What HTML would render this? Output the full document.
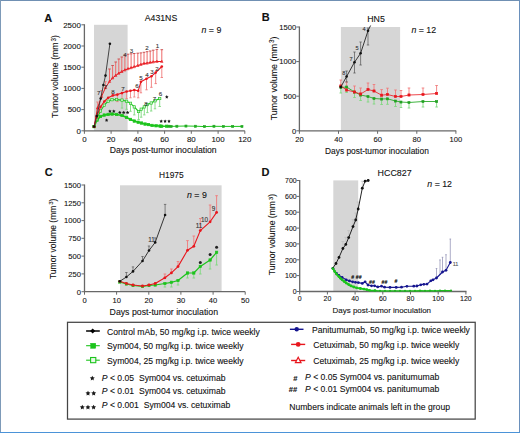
<!DOCTYPE html><html><head><meta charset="utf-8"><style>html,body{margin:0;padding:0;background:#fff;overflow:hidden;}svg{display:block;}text{font-family:"Liberation Sans", sans-serif;stroke-width:0.18px;stroke-opacity:0.6;}</style></head><body>
<svg width="520" height="433" viewBox="0 0 520 433">
<rect x="0" y="0" width="520" height="433" fill="#fff"/>
<rect x="94" y="24.8" width="33.6" height="106.0" fill="#d6d6d6"/>
<path d="M84.4,24.3V130.8H244.8" stroke="#686868" stroke-width="1.3" fill="none"/>
<path d="M81.4,130.8H84.4" stroke="#686868" stroke-width="1"/>
<text x="80.80" y="133.60" font-size="7.9" text-anchor="end" font-weight="normal" fill="#111" stroke="#111" >0</text>
<path d="M81.4,109.6H84.4" stroke="#686868" stroke-width="1"/>
<text x="80.80" y="112.40" font-size="7.9" text-anchor="end" font-weight="normal" fill="#111" stroke="#111" >500</text>
<path d="M81.4,88.4H84.4" stroke="#686868" stroke-width="1"/>
<text x="80.80" y="91.20" font-size="7.9" text-anchor="end" font-weight="normal" fill="#111" stroke="#111" >1000</text>
<path d="M81.4,67.2H84.4" stroke="#686868" stroke-width="1"/>
<text x="80.80" y="70.00" font-size="7.9" text-anchor="end" font-weight="normal" fill="#111" stroke="#111" >1500</text>
<path d="M81.4,46.0H84.4" stroke="#686868" stroke-width="1"/>
<text x="80.80" y="48.80" font-size="7.9" text-anchor="end" font-weight="normal" fill="#111" stroke="#111" >2000</text>
<path d="M81.4,24.8H84.4" stroke="#686868" stroke-width="1"/>
<text x="80.80" y="27.60" font-size="7.9" text-anchor="end" font-weight="normal" fill="#111" stroke="#111" >2500</text>
<path d="M84.4,130.8V133.8" stroke="#686868" stroke-width="1"/>
<text x="84.40" y="142.00" font-size="7.9" text-anchor="middle" font-weight="normal" fill="#111" stroke="#111" >0</text>
<path d="M111.1,130.8V133.8" stroke="#686868" stroke-width="1"/>
<text x="111.13" y="142.00" font-size="7.9" text-anchor="middle" font-weight="normal" fill="#111" stroke="#111" >20</text>
<path d="M137.9,130.8V133.8" stroke="#686868" stroke-width="1"/>
<text x="137.87" y="142.00" font-size="7.9" text-anchor="middle" font-weight="normal" fill="#111" stroke="#111" >40</text>
<path d="M164.6,130.8V133.8" stroke="#686868" stroke-width="1"/>
<text x="164.60" y="142.00" font-size="7.9" text-anchor="middle" font-weight="normal" fill="#111" stroke="#111" >60</text>
<path d="M191.3,130.8V133.8" stroke="#686868" stroke-width="1"/>
<text x="191.33" y="142.00" font-size="7.9" text-anchor="middle" font-weight="normal" fill="#111" stroke="#111" >80</text>
<path d="M218.1,130.8V133.8" stroke="#686868" stroke-width="1"/>
<text x="218.07" y="142.00" font-size="7.9" text-anchor="middle" font-weight="normal" fill="#111" stroke="#111" >100</text>
<path d="M244.8,130.8V133.8" stroke="#686868" stroke-width="1"/>
<text x="244.80" y="142.00" font-size="7.9" text-anchor="middle" font-weight="normal" fill="#111" stroke="#111" >120</text>
<text x="44.30" y="21.50" font-size="11" text-anchor="start" font-weight="bold" fill="#111" stroke="#111" >A</text>
<text x="161.00" y="21.30" font-size="8.7" text-anchor="middle" font-weight="normal" fill="#111" stroke="#111" >A431NS</text>
<text x="201.50" y="33.00" font-size="8.8" fill="#111" stroke="#111"><tspan font-style="italic">n</tspan> = 9</text>
<text transform="translate(58.30,76.50) rotate(-90)" font-size="8.75" text-anchor="middle" fill="#111" stroke="#111">Tumor volume (mm<tspan font-size="6.30" dx="0.8" dy="-2.6">3</tspan><tspan dy="2.6">)</tspan></text>
<text x="163.20" y="153.30" font-size="8.65" text-anchor="middle" font-weight="normal" fill="#111" stroke="#111" >Days post-tumor inoculation</text>
<path d="M109.5,81.5V69.0" stroke="#ee6a6a" stroke-width="1.0" stroke-opacity="1" fill="none"/>
<path d="M108.2,69.0H110.8" stroke="#c55" stroke-width="1.0" stroke-opacity="1" fill="none"/>
<path d="M112.6,78.0V65.5" stroke="#ee6a6a" stroke-width="1.0" stroke-opacity="1" fill="none"/>
<path d="M111.3,65.5H113.9" stroke="#c55" stroke-width="1.0" stroke-opacity="1" fill="none"/>
<path d="M115.7,75.5V62.0" stroke="#ee6a6a" stroke-width="1.0" stroke-opacity="1" fill="none"/>
<path d="M114.4,62.0H117.0" stroke="#c55" stroke-width="1.0" stroke-opacity="1" fill="none"/>
<path d="M118.8,73.3V59.0" stroke="#ee6a6a" stroke-width="1.0" stroke-opacity="1" fill="none"/>
<path d="M117.5,59.0H120.1" stroke="#c55" stroke-width="1.0" stroke-opacity="1" fill="none"/>
<path d="M121.8,71.6V57.0" stroke="#ee6a6a" stroke-width="1.0" stroke-opacity="1" fill="none"/>
<path d="M120.5,57.0H123.1" stroke="#c55" stroke-width="1.0" stroke-opacity="1" fill="none"/>
<path d="M124.9,70.0V55.0" stroke="#ee6a6a" stroke-width="1.0" stroke-opacity="1" fill="none"/>
<path d="M123.6,55.0H126.2" stroke="#c55" stroke-width="1.0" stroke-opacity="1" fill="none"/>
<path d="M128.0,68.8V54.2" stroke="#ee6a6a" stroke-width="1.0" stroke-opacity="1" fill="none"/>
<path d="M126.7,54.2H129.3" stroke="#c55" stroke-width="1.0" stroke-opacity="1" fill="none"/>
<path d="M131.1,67.8V53.8" stroke="#ee6a6a" stroke-width="1.0" stroke-opacity="1" fill="none"/>
<path d="M129.8,53.8H132.4" stroke="#c55" stroke-width="1.0" stroke-opacity="1" fill="none"/>
<path d="M134.2,66.8V53.5" stroke="#ee6a6a" stroke-width="1.0" stroke-opacity="1" fill="none"/>
<path d="M132.9,53.5H135.5" stroke="#c55" stroke-width="1.0" stroke-opacity="1" fill="none"/>
<path d="M137.8,65.6V53.2" stroke="#ee6a6a" stroke-width="1.0" stroke-opacity="1" fill="none"/>
<path d="M136.5,53.2H139.1" stroke="#c55" stroke-width="1.0" stroke-opacity="1" fill="none"/>
<path d="M140.9,64.5V52.9" stroke="#ee6a6a" stroke-width="1.0" stroke-opacity="1" fill="none"/>
<path d="M139.6,52.9H142.2" stroke="#c55" stroke-width="1.0" stroke-opacity="1" fill="none"/>
<path d="M144.0,63.5V52.3" stroke="#ee6a6a" stroke-width="1.0" stroke-opacity="1" fill="none"/>
<path d="M142.7,52.3H145.3" stroke="#c55" stroke-width="1.0" stroke-opacity="1" fill="none"/>
<path d="M147.1,63.2V51.7" stroke="#ee6a6a" stroke-width="1.0" stroke-opacity="1" fill="none"/>
<path d="M145.8,51.7H148.4" stroke="#c55" stroke-width="1.0" stroke-opacity="1" fill="none"/>
<path d="M150.2,62.5V51.0" stroke="#ee6a6a" stroke-width="1.0" stroke-opacity="1" fill="none"/>
<path d="M148.9,51.0H151.5" stroke="#c55" stroke-width="1.0" stroke-opacity="1" fill="none"/>
<path d="M153.2,62.0V50.2" stroke="#ee6a6a" stroke-width="1.0" stroke-opacity="1" fill="none"/>
<path d="M151.9,50.2H154.5" stroke="#c55" stroke-width="1.0" stroke-opacity="1" fill="none"/>
<path d="M156.9,61.5V49.4" stroke="#ee6a6a" stroke-width="1.0" stroke-opacity="1" fill="none"/>
<path d="M155.6,49.4H158.2" stroke="#c55" stroke-width="1.0" stroke-opacity="1" fill="none"/>
<path d="M161.8,61.5V49.7" stroke="#ee6a6a" stroke-width="1.0" stroke-opacity="1" fill="none"/>
<path d="M160.5,49.7H163.1" stroke="#c55" stroke-width="1.0" stroke-opacity="1" fill="none"/>
<path d="M97.5,108.0V102.0" stroke="#f07a7a" stroke-width="0.8" stroke-opacity="1" fill="none"/>
<path d="M96.2,102.0H98.8" stroke="#f07a7a" stroke-width="0.8" stroke-opacity="1" fill="none"/>
<path d="M101.5,96.5V90.5" stroke="#f07a7a" stroke-width="0.8" stroke-opacity="1" fill="none"/>
<path d="M100.2,90.5H102.8" stroke="#f07a7a" stroke-width="0.8" stroke-opacity="1" fill="none"/>
<path d="M105.5,87.7V81.7" stroke="#f07a7a" stroke-width="0.8" stroke-opacity="1" fill="none"/>
<path d="M104.2,81.7H106.8" stroke="#f07a7a" stroke-width="0.8" stroke-opacity="1" fill="none"/>
<path d="M117.4,94.6V101.6" stroke="#f07a7a" stroke-width="0.8" stroke-opacity="1" fill="none"/>
<path d="M116.2,101.6H118.6" stroke="#f07a7a" stroke-width="0.8" stroke-opacity="1" fill="none"/>
<path d="M122.0,93.1V100.1" stroke="#f07a7a" stroke-width="0.8" stroke-opacity="1" fill="none"/>
<path d="M120.8,100.1H123.2" stroke="#f07a7a" stroke-width="0.8" stroke-opacity="1" fill="none"/>
<path d="M126.6,91.5V98.5" stroke="#f07a7a" stroke-width="0.8" stroke-opacity="1" fill="none"/>
<path d="M125.4,98.5H127.8" stroke="#f07a7a" stroke-width="0.8" stroke-opacity="1" fill="none"/>
<path d="M130.5,90.8V97.8" stroke="#f07a7a" stroke-width="0.8" stroke-opacity="1" fill="none"/>
<path d="M129.3,97.8H131.7" stroke="#f07a7a" stroke-width="0.8" stroke-opacity="1" fill="none"/>
<path d="M134.3,90.0V97.0" stroke="#f07a7a" stroke-width="0.8" stroke-opacity="1" fill="none"/>
<path d="M133.1,97.0H135.5" stroke="#f07a7a" stroke-width="0.8" stroke-opacity="1" fill="none"/>
<path d="M138.2,90.8V97.8" stroke="#f07a7a" stroke-width="0.8" stroke-opacity="1" fill="none"/>
<path d="M137.0,97.8H139.4" stroke="#f07a7a" stroke-width="0.8" stroke-opacity="1" fill="none"/>
<path d="M140.9,81.8V92.8" stroke="#f07a7a" stroke-width="0.9" stroke-opacity="1" fill="none"/>
<path d="M139.7,92.8H142.1" stroke="#f07a7a" stroke-width="0.9" stroke-opacity="1" fill="none"/>
<path d="M146.5,78.8V89.8" stroke="#f07a7a" stroke-width="0.9" stroke-opacity="1" fill="none"/>
<path d="M145.3,89.8H147.7" stroke="#f07a7a" stroke-width="0.9" stroke-opacity="1" fill="none"/>
<path d="M151.4,76.3V87.3" stroke="#f07a7a" stroke-width="0.9" stroke-opacity="1" fill="none"/>
<path d="M150.2,87.3H152.6" stroke="#f07a7a" stroke-width="0.9" stroke-opacity="1" fill="none"/>
<path d="M155.7,72.6V83.6" stroke="#f07a7a" stroke-width="0.9" stroke-opacity="1" fill="none"/>
<path d="M154.5,83.6H156.9" stroke="#f07a7a" stroke-width="0.9" stroke-opacity="1" fill="none"/>
<path d="M161.8,66.5V77.5" stroke="#f07a7a" stroke-width="0.9" stroke-opacity="1" fill="none"/>
<path d="M160.6,77.5H163.0" stroke="#f07a7a" stroke-width="0.9" stroke-opacity="1" fill="none"/>
<path d="M122.0,100.1V108.1" stroke="#7fd87f" stroke-width="0.9" stroke-opacity="1" fill="none"/>
<path d="M120.8,108.1H123.2" stroke="#7fd87f" stroke-width="0.9" stroke-opacity="1" fill="none"/>
<path d="M126.6,101.3V109.3" stroke="#7fd87f" stroke-width="0.9" stroke-opacity="1" fill="none"/>
<path d="M125.4,109.3H127.8" stroke="#7fd87f" stroke-width="0.9" stroke-opacity="1" fill="none"/>
<path d="M130.5,103.3V111.3" stroke="#7fd87f" stroke-width="0.9" stroke-opacity="1" fill="none"/>
<path d="M129.3,111.3H131.7" stroke="#7fd87f" stroke-width="0.9" stroke-opacity="1" fill="none"/>
<path d="M134.3,106.9V114.9" stroke="#7fd87f" stroke-width="0.9" stroke-opacity="1" fill="none"/>
<path d="M133.1,114.9H135.5" stroke="#7fd87f" stroke-width="0.9" stroke-opacity="1" fill="none"/>
<path d="M138.6,111.5V119.5" stroke="#7fd87f" stroke-width="0.9" stroke-opacity="1" fill="none"/>
<path d="M137.4,119.5H139.8" stroke="#7fd87f" stroke-width="0.9" stroke-opacity="1" fill="none"/>
<path d="M141.2,109.2V117.2" stroke="#7fd87f" stroke-width="0.9" stroke-opacity="1" fill="none"/>
<path d="M140.0,117.2H142.4" stroke="#7fd87f" stroke-width="0.9" stroke-opacity="1" fill="none"/>
<path d="M144.3,106.9V114.9" stroke="#7fd87f" stroke-width="0.9" stroke-opacity="1" fill="none"/>
<path d="M143.1,114.9H145.5" stroke="#7fd87f" stroke-width="0.9" stroke-opacity="1" fill="none"/>
<path d="M147.4,104.6V112.6" stroke="#7fd87f" stroke-width="0.9" stroke-opacity="1" fill="none"/>
<path d="M146.2,112.6H148.6" stroke="#7fd87f" stroke-width="0.9" stroke-opacity="1" fill="none"/>
<path d="M151.2,103.0V111.0" stroke="#7fd87f" stroke-width="0.9" stroke-opacity="1" fill="none"/>
<path d="M150.0,111.0H152.4" stroke="#7fd87f" stroke-width="0.9" stroke-opacity="1" fill="none"/>
<path d="M155.0,100.8V108.8" stroke="#7fd87f" stroke-width="0.9" stroke-opacity="1" fill="none"/>
<path d="M153.8,108.8H156.2" stroke="#7fd87f" stroke-width="0.9" stroke-opacity="1" fill="none"/>
<path d="M159.7,98.5V106.5" stroke="#7fd87f" stroke-width="0.9" stroke-opacity="1" fill="none"/>
<path d="M158.5,106.5H160.9" stroke="#7fd87f" stroke-width="0.9" stroke-opacity="1" fill="none"/>
<polyline points="94.1,126.6 97.0,120.0 100.5,116.5 104.3,115.0 108.0,114.5 112.0,114.0 116.6,114.5 122.0,115.5 126.6,117.5 130.5,119.5 134.3,121.0 138.2,122.3 141.5,123.0 145.0,124.0 148.5,124.6 152.0,125.5 156.0,125.7 160.0,126.0 161.7,126.2 166.6,126.3" fill="none" stroke="#1cc41c" stroke-width="1.6" stroke-opacity="1" stroke-linejoin="round"/>
<polyline points="166.6,126.3 169.0,126.3 171.2,126.4 176.8,126.2 186.0,126.0 195.5,126.2 204.6,126.6 214.0,126.3 223.5,126.4 232.7,126.4 242.0,126.4" fill="none" stroke="#1cc41c" stroke-width="1.0" stroke-opacity="1" stroke-linejoin="round"/>
<rect x="92.8" y="125.3" width="2.5" height="2.5" fill="#1cc41c" stroke="#1cc41c" stroke-width="0.6"/>
<rect x="95.8" y="118.8" width="2.5" height="2.5" fill="#1cc41c" stroke="#1cc41c" stroke-width="0.6"/>
<rect x="99.2" y="115.2" width="2.5" height="2.5" fill="#1cc41c" stroke="#1cc41c" stroke-width="0.6"/>
<rect x="103.0" y="113.8" width="2.5" height="2.5" fill="#1cc41c" stroke="#1cc41c" stroke-width="0.6"/>
<rect x="106.8" y="113.2" width="2.5" height="2.5" fill="#1cc41c" stroke="#1cc41c" stroke-width="0.6"/>
<rect x="110.8" y="112.8" width="2.5" height="2.5" fill="#1cc41c" stroke="#1cc41c" stroke-width="0.6"/>
<rect x="115.3" y="113.2" width="2.5" height="2.5" fill="#1cc41c" stroke="#1cc41c" stroke-width="0.6"/>
<rect x="120.8" y="114.2" width="2.5" height="2.5" fill="#1cc41c" stroke="#1cc41c" stroke-width="0.6"/>
<rect x="125.3" y="116.2" width="2.5" height="2.5" fill="#1cc41c" stroke="#1cc41c" stroke-width="0.6"/>
<rect x="129.2" y="118.2" width="2.5" height="2.5" fill="#1cc41c" stroke="#1cc41c" stroke-width="0.6"/>
<rect x="133.1" y="119.8" width="2.5" height="2.5" fill="#1cc41c" stroke="#1cc41c" stroke-width="0.6"/>
<rect x="136.9" y="121.0" width="2.5" height="2.5" fill="#1cc41c" stroke="#1cc41c" stroke-width="0.6"/>
<rect x="140.2" y="121.8" width="2.5" height="2.5" fill="#1cc41c" stroke="#1cc41c" stroke-width="0.6"/>
<rect x="143.8" y="122.8" width="2.5" height="2.5" fill="#1cc41c" stroke="#1cc41c" stroke-width="0.6"/>
<rect x="147.2" y="123.3" width="2.5" height="2.5" fill="#1cc41c" stroke="#1cc41c" stroke-width="0.6"/>
<rect x="150.8" y="124.2" width="2.5" height="2.5" fill="#1cc41c" stroke="#1cc41c" stroke-width="0.6"/>
<rect x="154.8" y="124.5" width="2.5" height="2.5" fill="#1cc41c" stroke="#1cc41c" stroke-width="0.6"/>
<rect x="158.8" y="124.8" width="2.5" height="2.5" fill="#1cc41c" stroke="#1cc41c" stroke-width="0.6"/>
<rect x="160.4" y="125.0" width="2.5" height="2.5" fill="#1cc41c" stroke="#1cc41c" stroke-width="0.6"/>
<rect x="165.3" y="125.0" width="2.5" height="2.5" fill="#1cc41c" stroke="#1cc41c" stroke-width="0.6"/>
<rect x="167.9" y="125.2" width="2.1" height="2.1" fill="#22aa22" stroke="#22aa22" stroke-width="0.6"/>
<rect x="170.1" y="125.4" width="2.1" height="2.1" fill="#22aa22" stroke="#22aa22" stroke-width="0.6"/>
<rect x="175.8" y="125.2" width="2.1" height="2.1" fill="#22aa22" stroke="#22aa22" stroke-width="0.6"/>
<rect x="184.9" y="125.0" width="2.1" height="2.1" fill="#22aa22" stroke="#22aa22" stroke-width="0.6"/>
<rect x="194.4" y="125.2" width="2.1" height="2.1" fill="#22aa22" stroke="#22aa22" stroke-width="0.6"/>
<rect x="203.5" y="125.5" width="2.1" height="2.1" fill="#22aa22" stroke="#22aa22" stroke-width="0.6"/>
<rect x="212.9" y="125.2" width="2.1" height="2.1" fill="#22aa22" stroke="#22aa22" stroke-width="0.6"/>
<rect x="222.4" y="125.4" width="2.1" height="2.1" fill="#22aa22" stroke="#22aa22" stroke-width="0.6"/>
<rect x="231.6" y="125.4" width="2.1" height="2.1" fill="#22aa22" stroke="#22aa22" stroke-width="0.6"/>
<rect x="240.9" y="125.4" width="2.1" height="2.1" fill="#22aa22" stroke="#22aa22" stroke-width="0.6"/>
<polyline points="94.1,126.6 96.6,119.3 100.5,111.0 104.3,105.2 108.2,101.2 112.0,99.7 116.6,99.6 122.0,100.1 126.6,101.3 130.5,103.3 134.3,106.9 138.6,111.5 141.2,109.2 144.3,106.9 147.4,104.6 151.2,103.0 155.0,100.8 159.7,98.5" fill="none" stroke="#1cc41c" stroke-width="1.1" stroke-opacity="1" stroke-linejoin="round"/>
<rect x="92.9" y="125.4" width="2.4" height="2.4" fill="#c9efc9" stroke="#1cc41c" stroke-width="0.6"/>
<rect x="95.4" y="118.1" width="2.4" height="2.4" fill="#c9efc9" stroke="#1cc41c" stroke-width="0.6"/>
<rect x="99.3" y="109.8" width="2.4" height="2.4" fill="#c9efc9" stroke="#1cc41c" stroke-width="0.6"/>
<rect x="103.1" y="104.0" width="2.4" height="2.4" fill="#c9efc9" stroke="#1cc41c" stroke-width="0.6"/>
<rect x="107.0" y="100.0" width="2.4" height="2.4" fill="#c9efc9" stroke="#1cc41c" stroke-width="0.6"/>
<rect x="110.8" y="98.5" width="2.4" height="2.4" fill="#c9efc9" stroke="#1cc41c" stroke-width="0.6"/>
<rect x="115.4" y="98.4" width="2.4" height="2.4" fill="#c9efc9" stroke="#1cc41c" stroke-width="0.6"/>
<rect x="120.8" y="98.9" width="2.4" height="2.4" fill="#c9efc9" stroke="#1cc41c" stroke-width="0.6"/>
<rect x="125.4" y="100.1" width="2.4" height="2.4" fill="#c9efc9" stroke="#1cc41c" stroke-width="0.6"/>
<rect x="129.3" y="102.1" width="2.4" height="2.4" fill="#c9efc9" stroke="#1cc41c" stroke-width="0.6"/>
<rect x="133.1" y="105.7" width="2.4" height="2.4" fill="#c9efc9" stroke="#1cc41c" stroke-width="0.6"/>
<rect x="137.4" y="110.3" width="2.4" height="2.4" fill="#c9efc9" stroke="#1cc41c" stroke-width="0.6"/>
<rect x="140.0" y="108.0" width="2.4" height="2.4" fill="#c9efc9" stroke="#1cc41c" stroke-width="0.6"/>
<rect x="143.1" y="105.7" width="2.4" height="2.4" fill="#c9efc9" stroke="#1cc41c" stroke-width="0.6"/>
<rect x="146.2" y="103.4" width="2.4" height="2.4" fill="#c9efc9" stroke="#1cc41c" stroke-width="0.6"/>
<rect x="150.0" y="101.8" width="2.4" height="2.4" fill="#c9efc9" stroke="#1cc41c" stroke-width="0.6"/>
<rect x="153.8" y="99.6" width="2.4" height="2.4" fill="#c9efc9" stroke="#1cc41c" stroke-width="0.6"/>
<rect x="158.5" y="97.3" width="2.4" height="2.4" fill="#c9efc9" stroke="#1cc41c" stroke-width="0.6"/>
<polyline points="94.1,126.6 96.6,116.9 100.5,106.9 104.3,101.5 108.2,97.7 112.8,95.4 117.4,94.6 122.0,93.1 126.6,91.5 130.5,90.8 134.3,90.0 138.2,90.8 140.9,81.8 146.5,78.8 151.4,76.3 155.7,72.6 161.8,66.5" fill="none" stroke="#e8161d" stroke-width="1.1" stroke-opacity="1" stroke-linejoin="round"/>
<circle cx="94.1" cy="126.6" r="1.3" fill="#e8161d"/>
<circle cx="96.6" cy="116.9" r="1.3" fill="#e8161d"/>
<circle cx="100.5" cy="106.9" r="1.3" fill="#e8161d"/>
<circle cx="104.3" cy="101.5" r="1.3" fill="#e8161d"/>
<circle cx="108.2" cy="97.7" r="1.3" fill="#e8161d"/>
<circle cx="112.8" cy="95.4" r="1.3" fill="#e8161d"/>
<circle cx="117.4" cy="94.6" r="1.3" fill="#e8161d"/>
<circle cx="122.0" cy="93.1" r="1.3" fill="#e8161d"/>
<circle cx="126.6" cy="91.5" r="1.3" fill="#e8161d"/>
<circle cx="130.5" cy="90.8" r="1.3" fill="#e8161d"/>
<circle cx="134.3" cy="90.0" r="1.3" fill="#e8161d"/>
<circle cx="138.2" cy="90.8" r="1.3" fill="#e8161d"/>
<circle cx="140.9" cy="81.8" r="1.3" fill="#e8161d"/>
<circle cx="146.5" cy="78.8" r="1.3" fill="#e8161d"/>
<circle cx="151.4" cy="76.3" r="1.3" fill="#e8161d"/>
<circle cx="155.7" cy="72.6" r="1.3" fill="#e8161d"/>
<circle cx="161.8" cy="66.5" r="1.3" fill="#e8161d"/>
<polyline points="94.1,126.6 97.5,108.0 101.5,96.5 105.5,87.7 109.5,81.5 112.6,78.0 115.7,75.5 118.8,73.3 121.8,71.6 124.9,70.0 128.0,68.8 131.1,67.8 134.2,66.8 137.8,65.6 140.9,64.5 144.0,63.5 147.1,63.2 150.2,62.5 153.2,62.0 156.9,61.5 161.8,61.5" fill="none" stroke="#e8161d" stroke-width="1.0" stroke-opacity="1" stroke-linejoin="round"/>
<path d="M94.1,125.3L95.3,127.5H92.9Z" fill="none" stroke="#e8161d" stroke-width="0.7"/>
<path d="M97.5,106.7L98.7,108.9H96.3Z" fill="none" stroke="#e8161d" stroke-width="0.7"/>
<path d="M101.5,95.2L102.7,97.4H100.3Z" fill="none" stroke="#e8161d" stroke-width="0.7"/>
<path d="M105.5,86.4L106.7,88.6H104.3Z" fill="none" stroke="#e8161d" stroke-width="0.7"/>
<path d="M109.5,80.2L110.7,82.4H108.3Z" fill="none" stroke="#e8161d" stroke-width="0.7"/>
<path d="M112.6,76.7L113.8,78.9H111.4Z" fill="none" stroke="#e8161d" stroke-width="0.7"/>
<path d="M115.7,74.2L116.9,76.4H114.5Z" fill="none" stroke="#e8161d" stroke-width="0.7"/>
<path d="M118.8,72.0L120.0,74.2H117.6Z" fill="none" stroke="#e8161d" stroke-width="0.7"/>
<path d="M121.8,70.3L123.0,72.5H120.6Z" fill="none" stroke="#e8161d" stroke-width="0.7"/>
<path d="M124.9,68.7L126.1,70.9H123.7Z" fill="none" stroke="#e8161d" stroke-width="0.7"/>
<path d="M128.0,67.5L129.2,69.7H126.8Z" fill="none" stroke="#e8161d" stroke-width="0.7"/>
<path d="M131.1,66.5L132.3,68.7H129.9Z" fill="none" stroke="#e8161d" stroke-width="0.7"/>
<path d="M134.2,65.5L135.4,67.7H133.0Z" fill="none" stroke="#e8161d" stroke-width="0.7"/>
<path d="M137.8,64.3L139.0,66.5H136.6Z" fill="none" stroke="#e8161d" stroke-width="0.7"/>
<path d="M140.9,63.2L142.1,65.4H139.7Z" fill="none" stroke="#e8161d" stroke-width="0.7"/>
<path d="M144.0,62.2L145.2,64.4H142.8Z" fill="none" stroke="#e8161d" stroke-width="0.7"/>
<path d="M147.1,61.9L148.3,64.1H145.9Z" fill="none" stroke="#e8161d" stroke-width="0.7"/>
<path d="M150.2,61.2L151.4,63.4H149.0Z" fill="none" stroke="#e8161d" stroke-width="0.7"/>
<path d="M153.2,60.7L154.4,62.9H152.0Z" fill="none" stroke="#e8161d" stroke-width="0.7"/>
<path d="M156.9,60.2L158.1,62.4H155.7Z" fill="none" stroke="#e8161d" stroke-width="0.7"/>
<path d="M161.8,60.2L163.0,62.4H160.6Z" fill="none" stroke="#e8161d" stroke-width="0.7"/>
<polyline points="94.1,126.6 96.8,116.0 100.7,98.6 103.4,85.0 105.5,75.6 109.9,43.8" fill="none" stroke="#333" stroke-width="0.9" stroke-opacity="1" stroke-linejoin="round"/>
<circle cx="94.1" cy="126.6" r="1.3" fill="#111"/>
<circle cx="96.8" cy="116.0" r="1.3" fill="#111"/>
<circle cx="100.7" cy="98.6" r="1.3" fill="#111"/>
<circle cx="103.4" cy="85.0" r="1.3" fill="#111"/>
<circle cx="105.5" cy="75.6" r="1.3" fill="#111"/>
<circle cx="109.9" cy="43.8" r="1.3" fill="#111"/>
<text x="98.70" y="95.00" font-size="6.2" text-anchor="middle" font-weight="normal" fill="#333" stroke="#333" >7</text>
<text x="105.50" y="89.00" font-size="6.2" text-anchor="middle" font-weight="normal" fill="#333" stroke="#333" >7</text>
<text x="113.00" y="94.00" font-size="6.2" text-anchor="middle" font-weight="normal" fill="#333" stroke="#333" >8</text>
<text x="123.00" y="91.00" font-size="6.2" text-anchor="middle" font-weight="normal" fill="#333" stroke="#333" >7</text>
<text x="137.00" y="88.00" font-size="6.2" text-anchor="middle" font-weight="normal" fill="#333" stroke="#333" >6</text>
<text x="141.00" y="80.00" font-size="6.2" text-anchor="middle" font-weight="normal" fill="#333" stroke="#333" >5</text>
<text x="147.00" y="76.50" font-size="6.2" text-anchor="middle" font-weight="normal" fill="#333" stroke="#333" >4</text>
<text x="152.00" y="74.00" font-size="6.2" text-anchor="middle" font-weight="normal" fill="#333" stroke="#333" >3</text>
<text x="157.00" y="71.00" font-size="6.2" text-anchor="middle" font-weight="normal" fill="#333" stroke="#333" >2</text>
<text x="125.00" y="56.50" font-size="6.2" text-anchor="middle" font-weight="normal" fill="#333" stroke="#333" >4</text>
<text x="131.50" y="53.00" font-size="6.2" text-anchor="middle" font-weight="normal" fill="#333" stroke="#333" >3</text>
<text x="147.00" y="50.00" font-size="6.2" text-anchor="middle" font-weight="normal" fill="#333" stroke="#333" >2</text>
<text x="157.50" y="47.50" font-size="6.2" text-anchor="middle" font-weight="normal" fill="#333" stroke="#333" >1</text>
<text x="146.00" y="105.50" font-size="6.2" text-anchor="middle" font-weight="normal" fill="#333" stroke="#333" >8</text>
<text x="154.50" y="101.00" font-size="6.2" text-anchor="middle" font-weight="normal" fill="#333" stroke="#333" >7</text>
<text x="160.50" y="95.50" font-size="6.2" text-anchor="middle" font-weight="normal" fill="#333" stroke="#333" >6</text>
<polygon points="109.9,109.4 110.5,110.5 111.7,110.7 110.8,111.6 111.0,112.8 109.9,112.2 108.8,112.8 109.0,111.6 108.1,110.7 109.3,110.5" fill="#1a1a1a"/>
<polygon points="113.8,109.4 114.4,110.5 115.6,110.7 114.7,111.6 114.9,112.8 113.8,112.2 112.7,112.8 112.9,111.6 112.0,110.7 113.2,110.5" fill="#1a1a1a"/>
<polygon points="119.8,110.7 120.4,111.8 121.6,112.0 120.7,112.9 120.9,114.1 119.8,113.5 118.7,114.1 118.9,112.9 118.0,112.0 119.2,111.8" fill="#1a1a1a"/>
<polygon points="123.7,110.7 124.3,111.8 125.5,112.0 124.6,112.9 124.8,114.1 123.7,113.5 122.6,114.1 122.8,112.9 121.9,112.0 123.1,111.8" fill="#1a1a1a"/>
<polygon points="127.6,110.7 128.2,111.8 129.4,112.0 128.5,112.9 128.7,114.1 127.6,113.5 126.5,114.1 126.7,112.9 125.8,112.0 127.0,111.8" fill="#1a1a1a"/>
<polygon points="106.6,118.4 107.2,119.5 108.4,119.7 107.5,120.6 107.7,121.8 106.6,121.2 105.5,121.8 105.7,120.6 104.8,119.7 106.0,119.5" fill="#1a1a1a"/>
<polygon points="161.2,119.4 161.8,120.5 163.0,120.7 162.1,121.6 162.3,122.8 161.2,122.2 160.1,122.8 160.3,121.6 159.4,120.7 160.6,120.5" fill="#1a1a1a"/>
<polygon points="165.1,119.4 165.7,120.5 166.9,120.7 166.0,121.6 166.2,122.8 165.1,122.2 164.0,122.8 164.2,121.6 163.3,120.7 164.5,120.5" fill="#1a1a1a"/>
<polygon points="169.0,119.4 169.6,120.5 170.8,120.7 169.9,121.6 170.1,122.8 169.0,122.2 167.9,122.8 168.1,121.6 167.2,120.7 168.4,120.5" fill="#1a1a1a"/>
<polygon points="166.8,95.1 167.4,96.2 168.6,96.4 167.7,97.3 167.9,98.5 166.8,98.0 165.7,98.5 165.9,97.3 165.0,96.4 166.2,96.2" fill="#1a1a1a"/>
<rect x="340.9" y="27" width="59.2" height="103.8" fill="#d6d6d6"/>
<path d="M299.4,26.5V130.8H456.2" stroke="#686868" stroke-width="1.3" fill="none"/>
<path d="M296.4,130.8H299.4" stroke="#686868" stroke-width="1"/>
<text x="296.20" y="133.60" font-size="7.6" text-anchor="end" font-weight="normal" fill="#111" stroke="#111" >0</text>
<path d="M296.4,96.2H299.4" stroke="#686868" stroke-width="1"/>
<text x="296.20" y="99.00" font-size="7.6" text-anchor="end" font-weight="normal" fill="#111" stroke="#111" >500</text>
<path d="M296.4,61.6H299.4" stroke="#686868" stroke-width="1"/>
<text x="296.20" y="64.40" font-size="7.6" text-anchor="end" font-weight="normal" fill="#111" stroke="#111" >1000</text>
<path d="M296.4,27.0H299.4" stroke="#686868" stroke-width="1"/>
<text x="296.20" y="29.80" font-size="7.6" text-anchor="end" font-weight="normal" fill="#111" stroke="#111" >1500</text>
<path d="M299.4,130.8V133.8" stroke="#686868" stroke-width="1"/>
<text x="299.40" y="141.60" font-size="7.6" text-anchor="middle" font-weight="normal" fill="#111" stroke="#111" >20</text>
<path d="M338.5,130.8V133.8" stroke="#686868" stroke-width="1"/>
<text x="338.52" y="141.60" font-size="7.6" text-anchor="middle" font-weight="normal" fill="#111" stroke="#111" >40</text>
<path d="M377.6,130.8V133.8" stroke="#686868" stroke-width="1"/>
<text x="377.65" y="141.60" font-size="7.6" text-anchor="middle" font-weight="normal" fill="#111" stroke="#111" >60</text>
<path d="M416.8,130.8V133.8" stroke="#686868" stroke-width="1"/>
<text x="416.77" y="141.60" font-size="7.6" text-anchor="middle" font-weight="normal" fill="#111" stroke="#111" >80</text>
<path d="M455.9,130.8V133.8" stroke="#686868" stroke-width="1"/>
<text x="455.90" y="141.60" font-size="7.6" text-anchor="middle" font-weight="normal" fill="#111" stroke="#111" >100</text>
<text x="261.70" y="21.30" font-size="11" text-anchor="start" font-weight="bold" fill="#111" stroke="#111" >B</text>
<text x="376.00" y="21.50" font-size="8.8" text-anchor="middle" font-weight="normal" fill="#111" stroke="#111" >HN5</text>
<text x="411.40" y="33.20" font-size="8.8" fill="#111" stroke="#111"><tspan font-style="italic">n</tspan> = 12</text>
<text transform="translate(277.00,78.40) rotate(-90)" font-size="8.85" text-anchor="middle" fill="#111" stroke="#111">Tumor volume (mm<tspan font-size="6.37" dx="0.8" dy="-2.6">3</tspan><tspan dy="2.6">)</tspan></text>
<text x="376.90" y="153.60" font-size="8.4" text-anchor="middle" font-weight="normal" fill="#111" stroke="#111" >Days post-tumor inoculation</text>
<path d="M340.8,86.0V80.0" stroke="#f07a7a" stroke-width="0.9" stroke-opacity="1" fill="none"/>
<path d="M339.5,80.0H342.1" stroke="#f07a7a" stroke-width="0.9" stroke-opacity="1" fill="none"/>
<path d="M346.6,90.0V82.0" stroke="#f07a7a" stroke-width="0.9" stroke-opacity="1" fill="none"/>
<path d="M345.3,82.0H347.9" stroke="#f07a7a" stroke-width="0.9" stroke-opacity="1" fill="none"/>
<path d="M354.5,92.0V86.0" stroke="#f07a7a" stroke-width="0.9" stroke-opacity="1" fill="none"/>
<path d="M353.2,86.0H355.8" stroke="#f07a7a" stroke-width="0.9" stroke-opacity="1" fill="none"/>
<path d="M360.6,94.0V88.0" stroke="#f07a7a" stroke-width="0.9" stroke-opacity="1" fill="none"/>
<path d="M359.3,88.0H361.9" stroke="#f07a7a" stroke-width="0.9" stroke-opacity="1" fill="none"/>
<path d="M368.0,89.5V83.0" stroke="#f07a7a" stroke-width="0.9" stroke-opacity="1" fill="none"/>
<path d="M366.7,83.0H369.3" stroke="#f07a7a" stroke-width="0.9" stroke-opacity="1" fill="none"/>
<path d="M374.0,91.0V84.5" stroke="#f07a7a" stroke-width="0.9" stroke-opacity="1" fill="none"/>
<path d="M372.7,84.5H375.3" stroke="#f07a7a" stroke-width="0.9" stroke-opacity="1" fill="none"/>
<path d="M381.6,95.2V89.6" stroke="#f07a7a" stroke-width="0.9" stroke-opacity="1" fill="none"/>
<path d="M380.3,89.6H382.9" stroke="#f07a7a" stroke-width="0.9" stroke-opacity="1" fill="none"/>
<path d="M387.5,94.5V88.2" stroke="#f07a7a" stroke-width="0.9" stroke-opacity="1" fill="none"/>
<path d="M386.2,88.2H388.8" stroke="#f07a7a" stroke-width="0.9" stroke-opacity="1" fill="none"/>
<path d="M395.5,96.5V90.0" stroke="#f07a7a" stroke-width="0.9" stroke-opacity="1" fill="none"/>
<path d="M394.2,90.0H396.8" stroke="#f07a7a" stroke-width="0.9" stroke-opacity="1" fill="none"/>
<path d="M401.0,96.5V90.5" stroke="#f07a7a" stroke-width="0.9" stroke-opacity="1" fill="none"/>
<path d="M399.7,90.5H402.3" stroke="#f07a7a" stroke-width="0.9" stroke-opacity="1" fill="none"/>
<path d="M409.0,95.0V88.0" stroke="#f07a7a" stroke-width="0.9" stroke-opacity="1" fill="none"/>
<path d="M407.7,88.0H410.3" stroke="#f07a7a" stroke-width="0.9" stroke-opacity="1" fill="none"/>
<path d="M423.0,94.5V88.0" stroke="#f07a7a" stroke-width="0.9" stroke-opacity="1" fill="none"/>
<path d="M421.7,88.0H424.3" stroke="#f07a7a" stroke-width="0.9" stroke-opacity="1" fill="none"/>
<path d="M436.6,93.5V85.5" stroke="#f07a7a" stroke-width="0.9" stroke-opacity="1" fill="none"/>
<path d="M435.3,85.5H437.9" stroke="#f07a7a" stroke-width="0.9" stroke-opacity="1" fill="none"/>
<path d="M340.8,87.5V93.0" stroke="#7fd87f" stroke-width="0.9" stroke-opacity="1" fill="none"/>
<path d="M339.5,93.0H342.1" stroke="#7fd87f" stroke-width="0.9" stroke-opacity="1" fill="none"/>
<path d="M346.6,87.0V92.5" stroke="#7fd87f" stroke-width="0.9" stroke-opacity="1" fill="none"/>
<path d="M345.3,92.5H347.9" stroke="#7fd87f" stroke-width="0.9" stroke-opacity="1" fill="none"/>
<path d="M354.5,92.0V97.5" stroke="#7fd87f" stroke-width="0.9" stroke-opacity="1" fill="none"/>
<path d="M353.2,97.5H355.8" stroke="#7fd87f" stroke-width="0.9" stroke-opacity="1" fill="none"/>
<path d="M360.6,95.0V100.5" stroke="#7fd87f" stroke-width="0.9" stroke-opacity="1" fill="none"/>
<path d="M359.3,100.5H361.9" stroke="#7fd87f" stroke-width="0.9" stroke-opacity="1" fill="none"/>
<path d="M368.0,96.5V102.0" stroke="#7fd87f" stroke-width="0.9" stroke-opacity="1" fill="none"/>
<path d="M366.7,102.0H369.3" stroke="#7fd87f" stroke-width="0.9" stroke-opacity="1" fill="none"/>
<path d="M374.0,98.5V104.0" stroke="#7fd87f" stroke-width="0.9" stroke-opacity="1" fill="none"/>
<path d="M372.7,104.0H375.3" stroke="#7fd87f" stroke-width="0.9" stroke-opacity="1" fill="none"/>
<path d="M381.6,99.0V104.5" stroke="#7fd87f" stroke-width="0.9" stroke-opacity="1" fill="none"/>
<path d="M380.3,104.5H382.9" stroke="#7fd87f" stroke-width="0.9" stroke-opacity="1" fill="none"/>
<path d="M387.5,98.8V104.3" stroke="#7fd87f" stroke-width="0.9" stroke-opacity="1" fill="none"/>
<path d="M386.2,104.3H388.8" stroke="#7fd87f" stroke-width="0.9" stroke-opacity="1" fill="none"/>
<path d="M395.5,101.0V106.5" stroke="#7fd87f" stroke-width="0.9" stroke-opacity="1" fill="none"/>
<path d="M394.2,106.5H396.8" stroke="#7fd87f" stroke-width="0.9" stroke-opacity="1" fill="none"/>
<path d="M401.0,102.0V107.5" stroke="#7fd87f" stroke-width="0.9" stroke-opacity="1" fill="none"/>
<path d="M399.7,107.5H402.3" stroke="#7fd87f" stroke-width="0.9" stroke-opacity="1" fill="none"/>
<path d="M409.0,102.5V108.0" stroke="#7fd87f" stroke-width="0.9" stroke-opacity="1" fill="none"/>
<path d="M407.7,108.0H410.3" stroke="#7fd87f" stroke-width="0.9" stroke-opacity="1" fill="none"/>
<path d="M423.0,101.5V107.0" stroke="#7fd87f" stroke-width="0.9" stroke-opacity="1" fill="none"/>
<path d="M421.7,107.0H424.3" stroke="#7fd87f" stroke-width="0.9" stroke-opacity="1" fill="none"/>
<path d="M436.6,101.5V107.0" stroke="#7fd87f" stroke-width="0.9" stroke-opacity="1" fill="none"/>
<path d="M435.3,107.0H437.9" stroke="#7fd87f" stroke-width="0.9" stroke-opacity="1" fill="none"/>
<polyline points="340.8,87.5 346.6,87.0 354.5,92.0 360.6,95.0 368.0,96.5 374.0,98.5 381.6,99.0 387.5,98.8 395.5,101.0 401.0,102.0 409.0,102.5 423.0,101.5 436.6,101.5" fill="none" stroke="#2aac2a" stroke-width="0.9" stroke-opacity="1" stroke-linejoin="round"/>
<rect x="339.8" y="86.5" width="2.1" height="2.1" fill="#22a022" stroke="#22a022" stroke-width="0.6"/>
<rect x="345.6" y="86.0" width="2.1" height="2.1" fill="#22a022" stroke="#22a022" stroke-width="0.6"/>
<rect x="353.4" y="91.0" width="2.1" height="2.1" fill="#22a022" stroke="#22a022" stroke-width="0.6"/>
<rect x="359.6" y="94.0" width="2.1" height="2.1" fill="#22a022" stroke="#22a022" stroke-width="0.6"/>
<rect x="366.9" y="95.5" width="2.1" height="2.1" fill="#22a022" stroke="#22a022" stroke-width="0.6"/>
<rect x="372.9" y="97.5" width="2.1" height="2.1" fill="#22a022" stroke="#22a022" stroke-width="0.6"/>
<rect x="380.6" y="98.0" width="2.1" height="2.1" fill="#22a022" stroke="#22a022" stroke-width="0.6"/>
<rect x="386.4" y="97.8" width="2.1" height="2.1" fill="#22a022" stroke="#22a022" stroke-width="0.6"/>
<rect x="394.4" y="100.0" width="2.1" height="2.1" fill="#22a022" stroke="#22a022" stroke-width="0.6"/>
<rect x="399.9" y="101.0" width="2.1" height="2.1" fill="#22a022" stroke="#22a022" stroke-width="0.6"/>
<rect x="407.9" y="101.5" width="2.1" height="2.1" fill="#22a022" stroke="#22a022" stroke-width="0.6"/>
<rect x="421.9" y="100.5" width="2.1" height="2.1" fill="#22a022" stroke="#22a022" stroke-width="0.6"/>
<rect x="435.6" y="100.5" width="2.1" height="2.1" fill="#22a022" stroke="#22a022" stroke-width="0.6"/>
<polyline points="340.8,86.0 346.6,90.0 354.5,92.0 360.6,94.0 368.0,89.5 374.0,91.0 381.6,95.2 387.5,94.5 395.5,96.5 401.0,96.5 409.0,95.0 423.0,94.5 436.6,93.5" fill="none" stroke="#e8161d" stroke-width="0.8" stroke-opacity="1" stroke-linejoin="round"/>
<rect x="339.7" y="84.9" width="2.2" height="2.2" fill="#e8161d" stroke="#e8161d" stroke-width="0.6"/>
<rect x="345.5" y="88.9" width="2.2" height="2.2" fill="#e8161d" stroke="#e8161d" stroke-width="0.6"/>
<rect x="353.4" y="90.9" width="2.2" height="2.2" fill="#e8161d" stroke="#e8161d" stroke-width="0.6"/>
<rect x="359.5" y="92.9" width="2.2" height="2.2" fill="#e8161d" stroke="#e8161d" stroke-width="0.6"/>
<rect x="366.9" y="88.4" width="2.2" height="2.2" fill="#e8161d" stroke="#e8161d" stroke-width="0.6"/>
<rect x="372.9" y="89.9" width="2.2" height="2.2" fill="#e8161d" stroke="#e8161d" stroke-width="0.6"/>
<rect x="380.5" y="94.1" width="2.2" height="2.2" fill="#e8161d" stroke="#e8161d" stroke-width="0.6"/>
<rect x="386.4" y="93.4" width="2.2" height="2.2" fill="#e8161d" stroke="#e8161d" stroke-width="0.6"/>
<rect x="394.4" y="95.4" width="2.2" height="2.2" fill="#e8161d" stroke="#e8161d" stroke-width="0.6"/>
<rect x="399.9" y="95.4" width="2.2" height="2.2" fill="#e8161d" stroke="#e8161d" stroke-width="0.6"/>
<rect x="407.9" y="93.9" width="2.2" height="2.2" fill="#e8161d" stroke="#e8161d" stroke-width="0.6"/>
<rect x="421.9" y="93.4" width="2.2" height="2.2" fill="#e8161d" stroke="#e8161d" stroke-width="0.6"/>
<rect x="435.5" y="92.4" width="2.2" height="2.2" fill="#e8161d" stroke="#e8161d" stroke-width="0.6"/>
<path d="M346.6,76.5V71.0" stroke="#555" stroke-width="0.7" stroke-opacity="1" fill="none"/>
<path d="M345.4,71.0H347.8" stroke="#555" stroke-width="0.7" stroke-opacity="1" fill="none"/>
<path d="M354.5,62.2V52.0" stroke="#555" stroke-width="0.7" stroke-opacity="1" fill="none"/>
<path d="M353.3,52.0H355.7" stroke="#555" stroke-width="0.7" stroke-opacity="1" fill="none"/>
<path d="M360.6,53.3V42.0" stroke="#555" stroke-width="0.7" stroke-opacity="1" fill="none"/>
<path d="M359.4,42.0H361.8" stroke="#555" stroke-width="0.7" stroke-opacity="1" fill="none"/>
<path d="M368.0,30.8V28.0" stroke="#555" stroke-width="0.7" stroke-opacity="1" fill="none"/>
<path d="M366.8,28.0H369.2" stroke="#555" stroke-width="0.7" stroke-opacity="1" fill="none"/>
<path d="M346.6,76.5V82.0" stroke="#555" stroke-width="0.7" stroke-opacity="1" fill="none"/>
<path d="M345.4,82.0H347.8" stroke="#555" stroke-width="0.7" stroke-opacity="1" fill="none"/>
<path d="M354.5,62.2V73.0" stroke="#555" stroke-width="0.7" stroke-opacity="1" fill="none"/>
<path d="M353.3,73.0H355.7" stroke="#555" stroke-width="0.7" stroke-opacity="1" fill="none"/>
<path d="M360.6,53.3V65.0" stroke="#555" stroke-width="0.7" stroke-opacity="1" fill="none"/>
<path d="M359.4,65.0H361.8" stroke="#555" stroke-width="0.7" stroke-opacity="1" fill="none"/>
<path d="M368.0,30.8V45.0" stroke="#555" stroke-width="0.7" stroke-opacity="1" fill="none"/>
<path d="M366.8,45.0H369.2" stroke="#555" stroke-width="0.7" stroke-opacity="1" fill="none"/>
<polyline points="340.8,87.0 346.6,76.5 354.5,62.2 360.6,53.3 368.0,30.8 370.6,25.5" fill="none" stroke="#222" stroke-width="0.9" stroke-opacity="1" stroke-linejoin="round"/>
<circle cx="340.8" cy="87.0" r="1.3" fill="#111"/>
<circle cx="346.6" cy="76.5" r="1.3" fill="#111"/>
<circle cx="354.5" cy="62.2" r="1.3" fill="#111"/>
<circle cx="360.6" cy="53.3" r="1.3" fill="#111"/>
<circle cx="368.0" cy="30.8" r="1.3" fill="#111"/>
<text x="343.80" y="75.00" font-size="5.6" text-anchor="middle" font-weight="normal" fill="#333" stroke="#333" >8</text>
<text x="351.00" y="61.00" font-size="5.6" text-anchor="middle" font-weight="normal" fill="#333" stroke="#333" >7</text>
<text x="357.00" y="50.00" font-size="5.6" text-anchor="middle" font-weight="normal" fill="#333" stroke="#333" >5</text>
<text x="364.00" y="31.00" font-size="5.6" text-anchor="middle" font-weight="normal" fill="#333" stroke="#333" >4</text>
<rect x="120" y="185.3" width="101.6" height="106.4" fill="#d6d6d6"/>
<path d="M84.5,184.5V291.7H245.2" stroke="#686868" stroke-width="1.3" fill="none"/>
<path d="M81.5,291.7H84.5" stroke="#686868" stroke-width="1"/>
<text x="80.90" y="294.50" font-size="7.6" text-anchor="end" font-weight="normal" fill="#111" stroke="#111" >0</text>
<path d="M81.5,273.9H84.5" stroke="#686868" stroke-width="1"/>
<text x="80.90" y="276.72" font-size="7.6" text-anchor="end" font-weight="normal" fill="#111" stroke="#111" >250</text>
<path d="M81.5,256.1H84.5" stroke="#686868" stroke-width="1"/>
<text x="80.90" y="258.93" font-size="7.6" text-anchor="end" font-weight="normal" fill="#111" stroke="#111" >500</text>
<path d="M81.5,238.3H84.5" stroke="#686868" stroke-width="1"/>
<text x="80.90" y="241.15" font-size="7.6" text-anchor="end" font-weight="normal" fill="#111" stroke="#111" >750</text>
<path d="M81.5,220.6H84.5" stroke="#686868" stroke-width="1"/>
<text x="80.90" y="223.37" font-size="7.6" text-anchor="end" font-weight="normal" fill="#111" stroke="#111" >1000</text>
<path d="M81.5,202.8H84.5" stroke="#686868" stroke-width="1"/>
<text x="80.90" y="205.58" font-size="7.6" text-anchor="end" font-weight="normal" fill="#111" stroke="#111" >1250</text>
<path d="M81.5,185.0H84.5" stroke="#686868" stroke-width="1"/>
<text x="80.90" y="187.80" font-size="7.6" text-anchor="end" font-weight="normal" fill="#111" stroke="#111" >1500</text>
<path d="M84.5,291.7V294.7" stroke="#686868" stroke-width="1"/>
<text x="84.50" y="303.00" font-size="7.6" text-anchor="middle" font-weight="normal" fill="#111" stroke="#111" >0</text>
<path d="M116.6,291.7V294.7" stroke="#686868" stroke-width="1"/>
<text x="116.64" y="303.00" font-size="7.6" text-anchor="middle" font-weight="normal" fill="#111" stroke="#111" >10</text>
<path d="M148.8,291.7V294.7" stroke="#686868" stroke-width="1"/>
<text x="148.78" y="303.00" font-size="7.6" text-anchor="middle" font-weight="normal" fill="#111" stroke="#111" >20</text>
<path d="M180.9,291.7V294.7" stroke="#686868" stroke-width="1"/>
<text x="180.92" y="303.00" font-size="7.6" text-anchor="middle" font-weight="normal" fill="#111" stroke="#111" >30</text>
<path d="M213.1,291.7V294.7" stroke="#686868" stroke-width="1"/>
<text x="213.06" y="303.00" font-size="7.6" text-anchor="middle" font-weight="normal" fill="#111" stroke="#111" >40</text>
<path d="M245.2,291.7V294.7" stroke="#686868" stroke-width="1"/>
<text x="245.20" y="303.00" font-size="7.6" text-anchor="middle" font-weight="normal" fill="#111" stroke="#111" >50</text>
<text x="44.80" y="175.80" font-size="11" text-anchor="start" font-weight="bold" fill="#111" stroke="#111" >C</text>
<text x="171.30" y="178.00" font-size="8.4" text-anchor="middle" font-weight="normal" fill="#111" stroke="#111" >H1975</text>
<text x="187.00" y="197.80" font-size="8.8" fill="#111" stroke="#111"><tspan font-style="italic">n</tspan> = 9</text>
<text transform="translate(55.70,238.80) rotate(-90)" font-size="8.5" text-anchor="middle" fill="#111" stroke="#111">Tumor volume (mm<tspan font-size="6.12" dx="0.8" dy="-2.6">3</tspan><tspan dy="2.6">)</tspan></text>
<text x="163.80" y="314.50" font-size="8.75" text-anchor="middle" font-weight="normal" fill="#111" stroke="#111" >Days post-tumor inoculation</text>
<path d="M164.9,277.8V274.0" stroke="#f07a7a" stroke-width="0.9" stroke-opacity="1" fill="none"/>
<path d="M163.6,274.0H166.2" stroke="#f07a7a" stroke-width="0.9" stroke-opacity="1" fill="none"/>
<path d="M171.4,272.9V269.0" stroke="#f07a7a" stroke-width="0.9" stroke-opacity="1" fill="none"/>
<path d="M170.1,269.0H172.7" stroke="#f07a7a" stroke-width="0.9" stroke-opacity="1" fill="none"/>
<path d="M178.0,266.6V261.5" stroke="#f07a7a" stroke-width="0.9" stroke-opacity="1" fill="none"/>
<path d="M176.7,261.5H179.3" stroke="#f07a7a" stroke-width="0.9" stroke-opacity="1" fill="none"/>
<path d="M187.5,250.3V240.6" stroke="#f07a7a" stroke-width="0.9" stroke-opacity="1" fill="none"/>
<path d="M186.2,240.6H188.8" stroke="#f07a7a" stroke-width="0.9" stroke-opacity="1" fill="none"/>
<path d="M193.8,246.3V236.0" stroke="#f07a7a" stroke-width="0.9" stroke-opacity="1" fill="none"/>
<path d="M192.5,236.0H195.1" stroke="#f07a7a" stroke-width="0.9" stroke-opacity="1" fill="none"/>
<path d="M200.3,230.6V218.5" stroke="#f07a7a" stroke-width="0.9" stroke-opacity="1" fill="none"/>
<path d="M199.0,218.5H201.6" stroke="#f07a7a" stroke-width="0.9" stroke-opacity="1" fill="none"/>
<path d="M210.1,221.8V205.0" stroke="#f07a7a" stroke-width="0.9" stroke-opacity="1" fill="none"/>
<path d="M208.8,205.0H211.4" stroke="#f07a7a" stroke-width="0.9" stroke-opacity="1" fill="none"/>
<path d="M216.6,212.4V195.7" stroke="#f07a7a" stroke-width="0.9" stroke-opacity="1" fill="none"/>
<path d="M215.3,195.7H217.9" stroke="#f07a7a" stroke-width="0.9" stroke-opacity="1" fill="none"/>
<path d="M164.9,283.5V287.0" stroke="#7fd87f" stroke-width="0.9" stroke-opacity="1" fill="none"/>
<path d="M163.6,287.0H166.2" stroke="#7fd87f" stroke-width="0.9" stroke-opacity="1" fill="none"/>
<path d="M171.4,282.3V287.0" stroke="#7fd87f" stroke-width="0.9" stroke-opacity="1" fill="none"/>
<path d="M170.1,287.0H172.7" stroke="#7fd87f" stroke-width="0.9" stroke-opacity="1" fill="none"/>
<path d="M178.0,280.5V285.0" stroke="#7fd87f" stroke-width="0.9" stroke-opacity="1" fill="none"/>
<path d="M176.7,285.0H179.3" stroke="#7fd87f" stroke-width="0.9" stroke-opacity="1" fill="none"/>
<path d="M187.5,273.0V278.0" stroke="#7fd87f" stroke-width="0.9" stroke-opacity="1" fill="none"/>
<path d="M186.2,278.0H188.8" stroke="#7fd87f" stroke-width="0.9" stroke-opacity="1" fill="none"/>
<path d="M193.8,273.0V278.0" stroke="#7fd87f" stroke-width="0.9" stroke-opacity="1" fill="none"/>
<path d="M192.5,278.0H195.1" stroke="#7fd87f" stroke-width="0.9" stroke-opacity="1" fill="none"/>
<path d="M200.3,266.4V274.0" stroke="#7fd87f" stroke-width="0.9" stroke-opacity="1" fill="none"/>
<path d="M199.0,274.0H201.6" stroke="#7fd87f" stroke-width="0.9" stroke-opacity="1" fill="none"/>
<path d="M210.1,260.0V269.0" stroke="#7fd87f" stroke-width="0.9" stroke-opacity="1" fill="none"/>
<path d="M208.8,269.0H211.4" stroke="#7fd87f" stroke-width="0.9" stroke-opacity="1" fill="none"/>
<path d="M216.6,252.3V265.0" stroke="#7fd87f" stroke-width="0.9" stroke-opacity="1" fill="none"/>
<path d="M215.3,265.0H217.9" stroke="#7fd87f" stroke-width="0.9" stroke-opacity="1" fill="none"/>
<path d="M126.4,277.0V272.5" stroke="#555" stroke-width="0.7" stroke-opacity="1" fill="none"/>
<path d="M125.2,272.5H127.6" stroke="#555" stroke-width="0.7" stroke-opacity="1" fill="none"/>
<path d="M133.0,271.4V266.9" stroke="#555" stroke-width="0.7" stroke-opacity="1" fill="none"/>
<path d="M131.8,266.9H134.2" stroke="#555" stroke-width="0.7" stroke-opacity="1" fill="none"/>
<path d="M142.5,261.0V256.5" stroke="#555" stroke-width="0.7" stroke-opacity="1" fill="none"/>
<path d="M141.3,256.5H143.7" stroke="#555" stroke-width="0.7" stroke-opacity="1" fill="none"/>
<path d="M149.0,250.5V246.0" stroke="#555" stroke-width="0.7" stroke-opacity="1" fill="none"/>
<path d="M147.8,246.0H150.2" stroke="#555" stroke-width="0.7" stroke-opacity="1" fill="none"/>
<path d="M155.2,242.4V237.9" stroke="#555" stroke-width="0.7" stroke-opacity="1" fill="none"/>
<path d="M154.0,237.9H156.4" stroke="#555" stroke-width="0.7" stroke-opacity="1" fill="none"/>
<path d="M165.1,215.0V204.4" stroke="#555" stroke-width="0.7" stroke-opacity="1" fill="none"/>
<path d="M163.9,204.4H166.3" stroke="#555" stroke-width="0.7" stroke-opacity="1" fill="none"/>
<polyline points="119.8,282.0 126.4,284.0 133.0,285.5 142.5,286.5 149.0,285.5 155.2,285.0 164.9,283.5 171.4,282.3 178.0,280.5 187.5,273.0 193.8,273.0 200.3,266.4 210.1,260.0 216.6,252.3" fill="none" stroke="#1cc41c" stroke-width="1.2" stroke-opacity="1" stroke-linejoin="round"/>
<rect x="118.6" y="280.8" width="2.4" height="2.4" fill="#1cc41c" stroke="#1cc41c" stroke-width="0.6"/>
<rect x="125.2" y="282.8" width="2.4" height="2.4" fill="#1cc41c" stroke="#1cc41c" stroke-width="0.6"/>
<rect x="131.8" y="284.3" width="2.4" height="2.4" fill="#1cc41c" stroke="#1cc41c" stroke-width="0.6"/>
<rect x="141.3" y="285.3" width="2.4" height="2.4" fill="#1cc41c" stroke="#1cc41c" stroke-width="0.6"/>
<rect x="147.8" y="284.3" width="2.4" height="2.4" fill="#1cc41c" stroke="#1cc41c" stroke-width="0.6"/>
<rect x="154.0" y="283.8" width="2.4" height="2.4" fill="#1cc41c" stroke="#1cc41c" stroke-width="0.6"/>
<rect x="163.7" y="282.3" width="2.4" height="2.4" fill="#1cc41c" stroke="#1cc41c" stroke-width="0.6"/>
<rect x="170.2" y="281.1" width="2.4" height="2.4" fill="#1cc41c" stroke="#1cc41c" stroke-width="0.6"/>
<rect x="176.8" y="279.3" width="2.4" height="2.4" fill="#1cc41c" stroke="#1cc41c" stroke-width="0.6"/>
<rect x="186.3" y="271.8" width="2.4" height="2.4" fill="#1cc41c" stroke="#1cc41c" stroke-width="0.6"/>
<rect x="192.6" y="271.8" width="2.4" height="2.4" fill="#1cc41c" stroke="#1cc41c" stroke-width="0.6"/>
<rect x="199.1" y="265.2" width="2.4" height="2.4" fill="#1cc41c" stroke="#1cc41c" stroke-width="0.6"/>
<rect x="208.9" y="258.8" width="2.4" height="2.4" fill="#1cc41c" stroke="#1cc41c" stroke-width="0.6"/>
<rect x="215.4" y="251.1" width="2.4" height="2.4" fill="#1cc41c" stroke="#1cc41c" stroke-width="0.6"/>
<polyline points="119.8,281.3 126.4,283.5 133.0,285.0 142.5,286.0 149.0,285.0 155.2,283.5 164.9,277.8 171.4,272.9 178.0,266.6 187.5,250.3 193.8,246.3 200.3,230.6 210.1,221.8 216.6,212.4" fill="none" stroke="#e8161d" stroke-width="1.1" stroke-opacity="1" stroke-linejoin="round"/>
<circle cx="119.8" cy="281.3" r="1.4" fill="#e8161d"/>
<circle cx="126.4" cy="283.5" r="1.4" fill="#e8161d"/>
<circle cx="133.0" cy="285.0" r="1.4" fill="#e8161d"/>
<circle cx="142.5" cy="286.0" r="1.4" fill="#e8161d"/>
<circle cx="149.0" cy="285.0" r="1.4" fill="#e8161d"/>
<circle cx="155.2" cy="283.5" r="1.4" fill="#e8161d"/>
<circle cx="164.9" cy="277.8" r="1.4" fill="#e8161d"/>
<circle cx="171.4" cy="272.9" r="1.4" fill="#e8161d"/>
<circle cx="178.0" cy="266.6" r="1.4" fill="#e8161d"/>
<circle cx="187.5" cy="250.3" r="1.4" fill="#e8161d"/>
<circle cx="193.8" cy="246.3" r="1.4" fill="#e8161d"/>
<circle cx="200.3" cy="230.6" r="1.4" fill="#e8161d"/>
<circle cx="210.1" cy="221.8" r="1.4" fill="#e8161d"/>
<circle cx="216.6" cy="212.4" r="1.4" fill="#e8161d"/>
<polyline points="119.8,281.3 126.4,277.0 133.0,271.4 142.5,261.0 149.0,250.5 155.2,242.4 165.1,215.0" fill="none" stroke="#222" stroke-width="0.9" stroke-opacity="1" stroke-linejoin="round"/>
<circle cx="119.8" cy="281.3" r="1.3" fill="#111"/>
<circle cx="126.4" cy="277.0" r="1.3" fill="#111"/>
<circle cx="133.0" cy="271.4" r="1.3" fill="#111"/>
<circle cx="142.5" cy="261.0" r="1.3" fill="#111"/>
<circle cx="149.0" cy="250.5" r="1.3" fill="#111"/>
<circle cx="155.2" cy="242.4" r="1.3" fill="#111"/>
<circle cx="165.1" cy="215.0" r="1.3" fill="#111"/>
<circle cx="200.3" cy="262.4" r="1.5" fill="#222"/>
<circle cx="210.1" cy="254.6" r="1.5" fill="#222"/>
<circle cx="216.6" cy="247.3" r="1.5" fill="#222"/>
<text x="151.50" y="242.30" font-size="6.4" text-anchor="middle" font-weight="normal" fill="#333" stroke="#333" >11</text>
<text x="199.00" y="228.00" font-size="6.4" text-anchor="middle" font-weight="normal" fill="#333" stroke="#333" >11</text>
<text x="204.50" y="222.00" font-size="6.4" text-anchor="middle" font-weight="normal" fill="#333" stroke="#333" >10</text>
<text x="213.50" y="211.00" font-size="6.4" text-anchor="middle" font-weight="normal" fill="#333" stroke="#333" >9</text>
<rect x="333.3" y="180.4" width="24.9" height="111.1" fill="#d6d6d6"/>
<path d="M299.7,180.0V291.5H466.5" stroke="#686868" stroke-width="1.3" fill="none"/>
<path d="M296.7,291.5H299.7" stroke="#686868" stroke-width="1"/>
<text transform="translate(296.70,294.30) scale(0.92,1)" font-size="7.6" text-anchor="end" fill="#111" stroke="#111">0</text>
<path d="M296.7,275.6H299.7" stroke="#686868" stroke-width="1"/>
<text transform="translate(296.70,278.44) scale(0.92,1)" font-size="7.6" text-anchor="end" fill="#111" stroke="#111">100</text>
<path d="M296.7,259.8H299.7" stroke="#686868" stroke-width="1"/>
<text transform="translate(296.70,262.59) scale(0.92,1)" font-size="7.6" text-anchor="end" fill="#111" stroke="#111">200</text>
<path d="M296.7,243.9H299.7" stroke="#686868" stroke-width="1"/>
<text transform="translate(296.70,246.73) scale(0.92,1)" font-size="7.6" text-anchor="end" fill="#111" stroke="#111">300</text>
<path d="M296.7,228.1H299.7" stroke="#686868" stroke-width="1"/>
<text transform="translate(296.70,230.87) scale(0.92,1)" font-size="7.6" text-anchor="end" fill="#111" stroke="#111">400</text>
<path d="M296.7,212.2H299.7" stroke="#686868" stroke-width="1"/>
<text transform="translate(296.70,215.01) scale(0.92,1)" font-size="7.6" text-anchor="end" fill="#111" stroke="#111">500</text>
<path d="M296.7,196.4H299.7" stroke="#686868" stroke-width="1"/>
<text transform="translate(296.70,199.16) scale(0.92,1)" font-size="7.6" text-anchor="end" fill="#111" stroke="#111">600</text>
<path d="M296.7,180.5H299.7" stroke="#686868" stroke-width="1"/>
<text transform="translate(296.70,183.30) scale(0.92,1)" font-size="7.6" text-anchor="end" fill="#111" stroke="#111">700</text>
<path d="M299.7,291.5V294.5" stroke="#686868" stroke-width="1"/>
<text transform="translate(299.70,301.20) scale(0.92,1)" font-size="7.6" text-anchor="middle" fill="#111" stroke="#111">0</text>
<path d="M327.4,291.5V294.5" stroke="#686868" stroke-width="1"/>
<text transform="translate(327.40,301.20) scale(0.92,1)" font-size="7.6" text-anchor="middle" fill="#111" stroke="#111">20</text>
<path d="M355.1,291.5V294.5" stroke="#686868" stroke-width="1"/>
<text transform="translate(355.10,301.20) scale(0.92,1)" font-size="7.6" text-anchor="middle" fill="#111" stroke="#111">40</text>
<path d="M382.8,291.5V294.5" stroke="#686868" stroke-width="1"/>
<text transform="translate(382.80,301.20) scale(0.92,1)" font-size="7.6" text-anchor="middle" fill="#111" stroke="#111">60</text>
<path d="M410.5,291.5V294.5" stroke="#686868" stroke-width="1"/>
<text transform="translate(410.50,301.20) scale(0.92,1)" font-size="7.6" text-anchor="middle" fill="#111" stroke="#111">80</text>
<path d="M438.2,291.5V294.5" stroke="#686868" stroke-width="1"/>
<text transform="translate(438.20,301.20) scale(0.92,1)" font-size="7.6" text-anchor="middle" fill="#111" stroke="#111">100</text>
<path d="M465.9,291.5V294.5" stroke="#686868" stroke-width="1"/>
<text transform="translate(465.90,301.20) scale(0.92,1)" font-size="7.6" text-anchor="middle" fill="#111" stroke="#111">120</text>
<text x="261.50" y="175.80" font-size="11" text-anchor="start" font-weight="bold" fill="#111" stroke="#111" >D</text>
<text x="394.60" y="176.00" font-size="8.9" text-anchor="middle" font-weight="normal" fill="#111" stroke="#111" >HCC827</text>
<text x="427.30" y="187.20" font-size="8.8" fill="#111" stroke="#111"><tspan font-style="italic">n</tspan> = 12</text>
<text transform="translate(275.30,234.50) rotate(-90)" font-size="8.6" text-anchor="middle" fill="#111" stroke="#111">Tumor volume (mm<tspan font-size="6.19" dx="0.8" dy="-2.6">3</tspan><tspan dy="2.6">)</tspan></text>
<text x="381.80" y="312.80" font-size="7.95" text-anchor="middle" font-weight="normal" fill="#111" stroke="#111" >Days post-tumor inoculation</text>
<path d="M436.5,278.0V268.5" stroke="#8a8ab0" stroke-width="0.7" stroke-opacity="1" fill="none"/>
<path d="M435.7,268.5H437.3" stroke="#8a8ab0" stroke-width="0.7" stroke-opacity="1" fill="none"/>
<path d="M440.0,275.0V259.9" stroke="#8a8ab0" stroke-width="0.7" stroke-opacity="1" fill="none"/>
<path d="M439.2,259.9H440.8" stroke="#8a8ab0" stroke-width="0.7" stroke-opacity="1" fill="none"/>
<path d="M442.5,272.0V257.3" stroke="#8a8ab0" stroke-width="0.7" stroke-opacity="1" fill="none"/>
<path d="M441.7,257.3H443.3" stroke="#8a8ab0" stroke-width="0.7" stroke-opacity="1" fill="none"/>
<path d="M446.0,270.3V254.7" stroke="#8a8ab0" stroke-width="0.7" stroke-opacity="1" fill="none"/>
<path d="M445.2,254.7H446.8" stroke="#8a8ab0" stroke-width="0.7" stroke-opacity="1" fill="none"/>
<path d="M450.3,262.5V239.0" stroke="#8a8ab0" stroke-width="0.7" stroke-opacity="1" fill="none"/>
<path d="M449.5,239.0H451.1" stroke="#8a8ab0" stroke-width="0.7" stroke-opacity="1" fill="none"/>
<path d="M342.9,248.5V241.5" stroke="#bbb" stroke-width="0.6" stroke-opacity="1" fill="none"/>
<path d="M341.4,241.5H344.4" stroke="#bbb" stroke-width="0.6" stroke-opacity="1" fill="none"/>
<path d="M345.8,244.4V237.4" stroke="#bbb" stroke-width="0.6" stroke-opacity="1" fill="none"/>
<path d="M344.3,237.4H347.3" stroke="#bbb" stroke-width="0.6" stroke-opacity="1" fill="none"/>
<path d="M348.7,237.6V230.6" stroke="#bbb" stroke-width="0.6" stroke-opacity="1" fill="none"/>
<path d="M347.2,230.6H350.2" stroke="#bbb" stroke-width="0.6" stroke-opacity="1" fill="none"/>
<path d="M353.0,226.6V219.6" stroke="#bbb" stroke-width="0.6" stroke-opacity="1" fill="none"/>
<path d="M351.5,219.6H354.5" stroke="#bbb" stroke-width="0.6" stroke-opacity="1" fill="none"/>
<path d="M355.7,220.0V213.0" stroke="#bbb" stroke-width="0.6" stroke-opacity="1" fill="none"/>
<path d="M354.2,213.0H357.2" stroke="#bbb" stroke-width="0.6" stroke-opacity="1" fill="none"/>
<path d="M358.2,209.0V202.0" stroke="#bbb" stroke-width="0.6" stroke-opacity="1" fill="none"/>
<path d="M356.7,202.0H359.7" stroke="#bbb" stroke-width="0.6" stroke-opacity="1" fill="none"/>
<path d="M362.3,188.2V181.2" stroke="#bbb" stroke-width="0.6" stroke-opacity="1" fill="none"/>
<path d="M360.8,181.2H363.8" stroke="#bbb" stroke-width="0.6" stroke-opacity="1" fill="none"/>
<polyline points="332.9,268.3 336.5,273.3 338.9,275.5 342.1,277.4 346.2,279.8 349.4,280.9 352.6,281.8 355.5,282.3 358.3,282.6 362.3,283.4 365.1,281.8 368.0,285.0 371.5,285.8 374.6,285.8 377.7,286.9 381.5,286.2 384.6,287.2 390.0,287.4 396.2,287.4 401.5,287.2 406.9,286.3 413.8,286.2 416.9,286.0 420.8,284.8 423.8,284.3 427.0,284.1 430.8,280.8 433.0,279.8 436.5,278.0 442.5,272.0 446.0,270.3 450.3,262.5" fill="none" stroke="#15158f" stroke-width="1.1" stroke-opacity="1" stroke-linejoin="round"/>
<circle cx="332.9" cy="268.3" r="1.4" fill="#15158f"/>
<circle cx="336.5" cy="273.3" r="1.4" fill="#15158f"/>
<circle cx="338.9" cy="275.5" r="1.4" fill="#15158f"/>
<circle cx="342.1" cy="277.4" r="1.4" fill="#15158f"/>
<circle cx="346.2" cy="279.8" r="1.4" fill="#15158f"/>
<circle cx="349.4" cy="280.9" r="1.4" fill="#15158f"/>
<circle cx="352.6" cy="281.8" r="1.4" fill="#15158f"/>
<circle cx="355.5" cy="282.3" r="1.4" fill="#15158f"/>
<circle cx="358.3" cy="282.6" r="1.4" fill="#15158f"/>
<circle cx="362.3" cy="283.4" r="1.4" fill="#15158f"/>
<circle cx="365.1" cy="281.8" r="1.4" fill="#15158f"/>
<circle cx="368.0" cy="285.0" r="1.4" fill="#15158f"/>
<circle cx="371.5" cy="285.8" r="1.4" fill="#15158f"/>
<circle cx="374.6" cy="285.8" r="1.4" fill="#15158f"/>
<circle cx="377.7" cy="286.9" r="1.4" fill="#15158f"/>
<circle cx="381.5" cy="286.2" r="1.4" fill="#15158f"/>
<circle cx="384.6" cy="287.2" r="1.4" fill="#15158f"/>
<circle cx="390.0" cy="287.4" r="1.4" fill="#15158f"/>
<circle cx="396.2" cy="287.4" r="1.4" fill="#15158f"/>
<circle cx="401.5" cy="287.2" r="1.4" fill="#15158f"/>
<circle cx="406.9" cy="286.3" r="1.4" fill="#15158f"/>
<circle cx="413.8" cy="286.2" r="1.4" fill="#15158f"/>
<circle cx="416.9" cy="286.0" r="1.4" fill="#15158f"/>
<circle cx="420.8" cy="284.8" r="1.4" fill="#15158f"/>
<circle cx="423.8" cy="284.3" r="1.4" fill="#15158f"/>
<circle cx="427.0" cy="284.1" r="1.4" fill="#15158f"/>
<circle cx="430.8" cy="280.8" r="1.4" fill="#15158f"/>
<circle cx="433.0" cy="279.8" r="1.4" fill="#15158f"/>
<circle cx="436.5" cy="278.0" r="1.4" fill="#15158f"/>
<circle cx="442.5" cy="272.0" r="1.4" fill="#15158f"/>
<circle cx="446.0" cy="270.3" r="1.4" fill="#15158f"/>
<circle cx="450.3" cy="262.5" r="1.4" fill="#15158f"/>
<polyline points="332.9,268.5 334.7,271.5 336.5,274.1 338.9,276.6 340.5,278.3 342.1,279.8 344.2,281.5 346.2,283.0 348.6,284.5 351.0,285.9 353.8,287.0 356.7,287.9 360.3,288.5 364.0,289.1 366.8,289.7 369.6,290.3 375.0,290.6" fill="none" stroke="#1cc41c" stroke-width="1.8" stroke-opacity="1" stroke-linejoin="round"/>
<circle cx="332.9" cy="268.5" r="1.4" fill="#1cc41c"/>
<circle cx="334.7" cy="271.5" r="1.4" fill="#1cc41c"/>
<circle cx="336.5" cy="274.1" r="1.4" fill="#1cc41c"/>
<circle cx="338.9" cy="276.6" r="1.4" fill="#1cc41c"/>
<circle cx="340.5" cy="278.3" r="1.4" fill="#1cc41c"/>
<circle cx="342.1" cy="279.8" r="1.4" fill="#1cc41c"/>
<circle cx="344.2" cy="281.5" r="1.4" fill="#1cc41c"/>
<circle cx="346.2" cy="283.0" r="1.4" fill="#1cc41c"/>
<circle cx="348.6" cy="284.5" r="1.4" fill="#1cc41c"/>
<circle cx="351.0" cy="285.9" r="1.4" fill="#1cc41c"/>
<circle cx="353.8" cy="287.0" r="1.4" fill="#1cc41c"/>
<circle cx="356.7" cy="287.9" r="1.4" fill="#1cc41c"/>
<circle cx="360.3" cy="288.5" r="1.4" fill="#1cc41c"/>
<circle cx="364.0" cy="289.1" r="1.4" fill="#1cc41c"/>
<circle cx="366.8" cy="289.7" r="1.4" fill="#1cc41c"/>
<circle cx="369.6" cy="290.3" r="1.4" fill="#1cc41c"/>
<circle cx="375.0" cy="290.6" r="1.4" fill="#1cc41c"/>
<polyline points="375.0,290.6 380.0,290.8 385.0,290.9 390.0,290.9 395.0,290.9 400.0,290.9 405.0,290.9 410.0,290.8 415.0,290.9 420.0,290.7 425.0,290.8 430.0,290.7 435.0,290.8 440.0,290.6 445.0,290.7 451.0,290.6" fill="none" stroke="#1cc41c" stroke-width="1.2" stroke-opacity="1" stroke-linejoin="round"/>
<circle cx="375.0" cy="290.6" r="1.1" fill="#22b022"/>
<circle cx="380.0" cy="290.8" r="1.1" fill="#22b022"/>
<circle cx="385.0" cy="290.9" r="1.1" fill="#22b022"/>
<circle cx="390.0" cy="290.9" r="1.1" fill="#22b022"/>
<circle cx="395.0" cy="290.9" r="1.1" fill="#22b022"/>
<circle cx="400.0" cy="290.9" r="1.1" fill="#22b022"/>
<circle cx="405.0" cy="290.9" r="1.1" fill="#22b022"/>
<circle cx="410.0" cy="290.8" r="1.1" fill="#22b022"/>
<circle cx="415.0" cy="290.9" r="1.1" fill="#22b022"/>
<circle cx="420.0" cy="290.7" r="1.1" fill="#22b022"/>
<circle cx="425.0" cy="290.8" r="1.1" fill="#22b022"/>
<circle cx="430.0" cy="290.7" r="1.1" fill="#22b022"/>
<circle cx="435.0" cy="290.8" r="1.1" fill="#22b022"/>
<circle cx="440.0" cy="290.6" r="1.1" fill="#22b022"/>
<circle cx="445.0" cy="290.7" r="1.1" fill="#22b022"/>
<circle cx="451.0" cy="290.6" r="1.1" fill="#22b022"/>
<polyline points="332.9,267.9 336.0,263.5 339.0,257.4 342.9,248.5 345.8,244.4 348.7,237.6 353.0,226.6 355.7,220.0 358.2,209.0 362.3,188.2 365.1,181.2 368.2,180.5" fill="none" stroke="#222" stroke-width="1.0" stroke-opacity="1" stroke-linejoin="round"/>
<circle cx="336.0" cy="263.5" r="1.4" fill="#111"/>
<circle cx="339.0" cy="257.4" r="1.4" fill="#111"/>
<circle cx="342.9" cy="248.5" r="1.4" fill="#111"/>
<circle cx="345.8" cy="244.4" r="1.4" fill="#111"/>
<circle cx="348.7" cy="237.6" r="1.4" fill="#111"/>
<circle cx="353.0" cy="226.6" r="1.4" fill="#111"/>
<circle cx="355.7" cy="220.0" r="1.4" fill="#111"/>
<circle cx="358.2" cy="209.0" r="1.4" fill="#111"/>
<circle cx="362.3" cy="188.2" r="1.4" fill="#111"/>
<circle cx="365.1" cy="181.2" r="1.4" fill="#111"/>
<circle cx="368.2" cy="180.5" r="1.4" fill="#111"/>
<text x="352.60" y="279.20" font-size="5.2" text-anchor="middle" font-weight="bold" fill="#111" stroke="#111" >#</text>
<text x="358.70" y="279.20" font-size="5.2" text-anchor="middle" font-weight="bold" fill="#111" stroke="#111" >##</text>
<text x="372.00" y="283.50" font-size="5.2" text-anchor="middle" font-weight="bold" fill="#111" stroke="#111" >##</text>
<text x="384.50" y="284.20" font-size="5.2" text-anchor="middle" font-weight="bold" fill="#111" stroke="#111" >##</text>
<text x="396.00" y="283.20" font-size="5.2" text-anchor="middle" font-weight="bold" fill="#111" stroke="#111" >#</text>
<text x="455.50" y="266.00" font-size="5.5" text-anchor="middle" font-weight="normal" fill="#555" stroke="#555" >11</text>
<rect x="67.5" y="322.3" width="407.7" height="96.8" fill="none" stroke="#454545" stroke-width="1.25"/>
<path d="M86.1,331.0H99.8" stroke="#000" stroke-width="1.5"/>
<path d="M92.7,328.4L95.3,331.0L92.7,333.6L90.1,331.0Z" fill="#000"/>
<text x="107.10" y="334.70" font-size="8.62" text-anchor="start" font-weight="normal" fill="#111" stroke="#111" >Control mAb, 50 mg/kg i.p. twice weekly</text>
<path d="M86.1,345.7H99.8" stroke="#1cc41c" stroke-width="1.1"/>
<rect x="90.6" y="343.2" width="5.2" height="5.2" fill="#1cc41c" stroke="#1cc41c" stroke-width="0.4"/>
<text x="107.10" y="349.10" font-size="8.62" text-anchor="start" font-weight="normal" fill="#111" stroke="#111" >Sym004, 50 mg/kg i.p. twice weekly</text>
<path d="M86.1,360.2H99.8" stroke="#1cc41c" stroke-width="1.1"/>
<rect x="90.6" y="357.5" width="5.2" height="5.2" fill="#e8f8e8" stroke="#1cc41c" stroke-width="1.1"/>
<text x="107.10" y="363.70" font-size="8.62" text-anchor="start" font-weight="normal" fill="#111" stroke="#111" >Sym004, 25 mg/kg i.p. twice weekly</text>
<polygon points="92.3,375.7 93.1,377.2 94.8,377.5 93.5,378.7 93.8,380.4 92.3,379.6 90.8,380.4 91.1,378.7 89.8,377.5 91.5,377.2" fill="#1a1a1a"/>
<text x="101.80" y="380.90" font-size="8.62" text-anchor="start" font-weight="normal" fill="#111" stroke="#111" xml:space="preserve"><tspan font-style="italic">P</tspan> &lt; 0.05  Sym004 vs. cetuximab</text>
<polygon points="88.0,390.8 88.8,392.3 90.5,392.6 89.2,393.8 89.5,395.5 88.0,394.7 86.5,395.5 86.8,393.8 85.5,392.6 87.2,392.3" fill="#1a1a1a"/>
<polygon points="93.7,390.8 94.5,392.3 96.2,392.6 94.9,393.8 95.2,395.5 93.7,394.7 92.2,395.5 92.5,393.8 91.2,392.6 92.9,392.3" fill="#1a1a1a"/>
<text x="101.80" y="394.40" font-size="8.62" text-anchor="start" font-weight="normal" fill="#111" stroke="#111" xml:space="preserve"><tspan font-style="italic">P</tspan> &lt; 0.01  Sym004 vs. cetuximab</text>
<polygon points="82.3,404.7 83.1,406.2 84.8,406.5 83.5,407.7 83.8,409.4 82.3,408.6 80.8,409.4 81.1,407.7 79.8,406.5 81.5,406.2" fill="#1a1a1a"/>
<polygon points="88.0,404.7 88.7,406.2 90.4,406.5 89.2,407.7 89.5,409.4 88.0,408.6 86.4,409.4 86.7,407.7 85.5,406.5 87.2,406.2" fill="#1a1a1a"/>
<polygon points="93.6,404.7 94.4,406.2 96.1,406.5 94.8,407.7 95.1,409.4 93.6,408.6 92.1,409.4 92.4,407.7 91.1,406.5 92.8,406.2" fill="#1a1a1a"/>
<text x="101.80" y="407.60" font-size="8.62" text-anchor="start" font-weight="normal" fill="#111" stroke="#111" xml:space="preserve"><tspan font-style="italic">P</tspan> &lt; 0.001  Sym004 vs. cetuximab</text>
<path d="M289.9,329.3H303.5" stroke="#15158f" stroke-width="1.4"/>
<circle cx="296.7" cy="329.3" r="2.2" fill="#15158f"/>
<text x="312.00" y="332.50" font-size="8.62" text-anchor="start" font-weight="normal" fill="#111" stroke="#111" >Panitumumab, 50 mg/kg i.p. twice weekly</text>
<path d="M291.1,344.4H305.2" stroke="#e8161d" stroke-width="1.4"/>
<circle cx="298.2" cy="344.4" r="2.4" fill="#e8161d"/>
<text x="313.30" y="347.90" font-size="8.62" text-anchor="start" font-weight="normal" fill="#111" stroke="#111" >Cetuximab, 50 mg/kg i.p. twice weekly</text>
<path d="M291.1,360.5H305.2" stroke="#e8161d" stroke-width="1.4"/>
<path d="M298.2,357.3L301.0,362.6H295.4Z" fill="#fff" stroke="#e8161d" stroke-width="1.2"/>
<text x="313.30" y="363.80" font-size="8.62" text-anchor="start" font-weight="normal" fill="#111" stroke="#111" >Cetuximab, 25 mg/kg i.p. twice weekly</text>
<text x="295.40" y="381.00" font-size="7.6" text-anchor="middle" font-weight="bold" fill="#111" stroke="#111" >#</text>
<text x="305.00" y="380.20" font-size="8.62" text-anchor="start" font-weight="normal" fill="#111" stroke="#111" ><tspan font-style="italic">P</tspan> &lt; 0.05 Sym004 vs. panitumumab</text>
<text x="293.10" y="392.40" font-size="7.6" text-anchor="middle" font-weight="bold" fill="#111" stroke="#111" >##</text>
<text x="305.00" y="391.80" font-size="8.62" text-anchor="start" font-weight="normal" fill="#111" stroke="#111" ><tspan font-style="italic">P</tspan> &lt; 0.01 Sym004 vs. panitumumab</text>
<text x="289.20" y="410.10" font-size="8.62" text-anchor="start" font-weight="normal" fill="#111" stroke="#111" >Numbers indicate animals left in the group</text>
<rect x="0" y="0" width="520" height="1" fill="#7090b3"/>
<rect x="0" y="0" width="1" height="433" fill="#7d9ab8"/>
<rect x="519" y="0" width="1" height="433" fill="#6a90bc"/>
<rect x="0" y="432" width="520" height="1" fill="#4b93d8"/>
</svg></body></html>
